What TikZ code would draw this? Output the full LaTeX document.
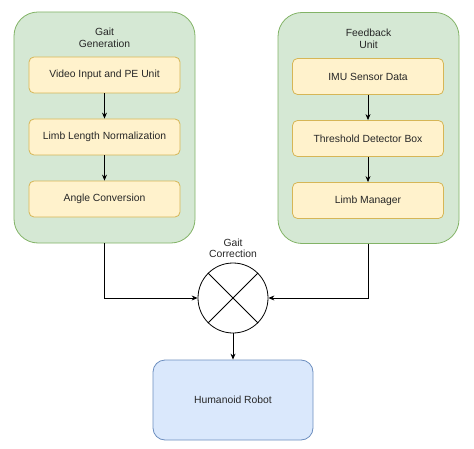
\documentclass[tikz,border=0pt]{standalone}
\usepackage{fontspec}
\setmainfont{Liberation Sans}
\usetikzlibrary{positioning,arrows.meta}
\definecolor{grpfill}{HTML}{D5E8D4}
\definecolor{grpline}{HTML}{82B366}
\definecolor{unitfill}{HTML}{FFF2CC}
\definecolor{unitline}{HTML}{D6B656}
\definecolor{robofill}{HTML}{DAE8FC}
\definecolor{roboline}{HTML}{6C8EBF}

\begin{document}
\begin{tikzpicture}[x=1bp, y=-1bp, node distance=62bp, on grid,
  font=\fontsize{10.4}{12}\selectfont, text=black!85,
  >={Stealth[length=6bp,width=5bp]},
  group/.style={draw=grpline, fill=grpfill, rounded corners=24bp, line width=0.8bp,
    minimum width=181bp, minimum height=231bp},
  unit/.style={draw=unitline, fill=unitfill, rounded corners=5bp, line width=0.8bp,
    minimum width=151bp, minimum height=36bp},
  mixer/.style={draw, circle, line width=0.8bp, minimum size=70bp, inner sep=0pt},
  robot/.style={draw=roboline, fill=robofill, rounded corners=12bp, line width=0.8bp,
    minimum width=160bp, minimum height=80bp}]
\useasboundingbox (0,0) rectangle (474,449);
% left and right groups
\node[group] (gen) at (104.5,127.5) {};
\node[group] (fb) at (368.5,128) {};
\node[align=center] (gen_t) at (104.5,38) {Gait\\Generation};
\node[align=center] (fb_t) at (368.5,39) {Feedback\\Unit};
% gait generation chain
\node[unit] (video) at (104.5,75) {Video Input and PE Unit};
\node[unit] (limb) [below=of video] {Limb Length Normalization};
\node[unit] (angle) [below=of limb] {Angle Conversion};
% feedback chain
\node[unit] (imu) at (368,76.5) {IMU Sensor Data};
\node[unit] (thresh) [below=of imu] {Threshold Detector Box};
\node[unit] (manager) [below=of thresh] {Limb Manager};
% correction and robot
\node[mixer, label={[align=center, label distance=1bp]above:Gait\\Correction}] (corr) at (233,298) {};
\node[robot] (robot) at (233,400) {Humanoid Robot};
\draw[line width=0.8bp] (corr.north west) -- (corr.south east)
  (corr.north east) -- (corr.south west);
\path[->, line width=0.8bp]
(video) edge (limb)
(limb) edge (angle)
(imu) edge (thresh)
(thresh) edge (manager)
(corr) edge (robot);
\draw[->, line width=0.8bp] (gen.south) |- (corr.west);
\draw[->, line width=0.8bp] (fb.south) |- (corr.east);
\end{tikzpicture}
\end{document}
